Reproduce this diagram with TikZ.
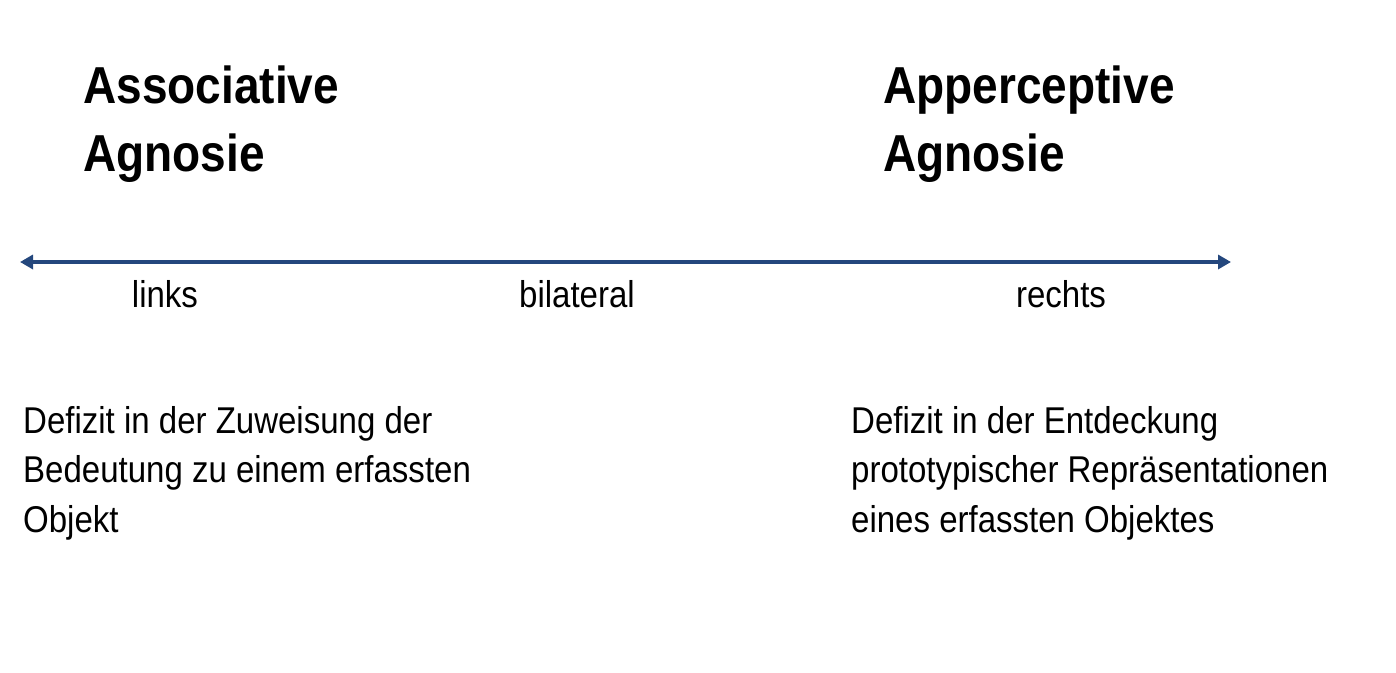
\documentclass[tikz,border=0pt]{standalone}
\usepackage{fontspec}
\setmainfont{Liberation Sans}
\newfontfamily\tallsans[FakeStretch=0.885]{Liberation Sans}
\usetikzlibrary{arrows.meta}
\definecolor{axisblue}{RGB}{36,71,125}
\begin{document}
\begin{tikzpicture}[x=1pt,y=-1pt,
  heading/.style={anchor=base west,inner sep=0pt,align=left,font=\tallsans\fontsize{52}{67.5}\selectfont\bfseries},
  body/.style={anchor=base west,inner sep=0pt,align=left,font=\tallsans\fontsize{37.3}{49.5}\selectfont},
  sidelabel/.style={anchor=base,inner sep=0pt,font=\tallsans\fontsize{37.3}{44}\selectfont},
  axis/.style={draw=axisblue,line width=3.6pt,{Triangle[length=13pt,width=14pt]}-{Triangle[length=13pt,width=14pt]}}]
\useasboundingbox (0,0) rectangle (1396,672);
\node[heading] (assoc) at (83,171) {Associative\\Agnosie};
\node[heading] (apper) at (883,171) {Apperceptive\\Agnosie};
\coordinate (left) at (20,262);
\coordinate (right) at (1231,262);
\draw[axis] (left) -- (right);
\node[sidelabel] (links) at (165,307) {links};
\node[sidelabel] (bilat) at (577,307) {bilateral};
\node[sidelabel] (rechts) at (1061,307) {rechts};
\node[body] (defl) at (23,532) {Defizit in der Zuweisung der\\Bedeutung zu einem erfassten\\Objekt};
\node[body] (defr) at (851,532) {Defizit in der Entdeckung\\prototypischer Repräsentationen\\eines erfassten Objektes};
\end{tikzpicture}
\end{document}
